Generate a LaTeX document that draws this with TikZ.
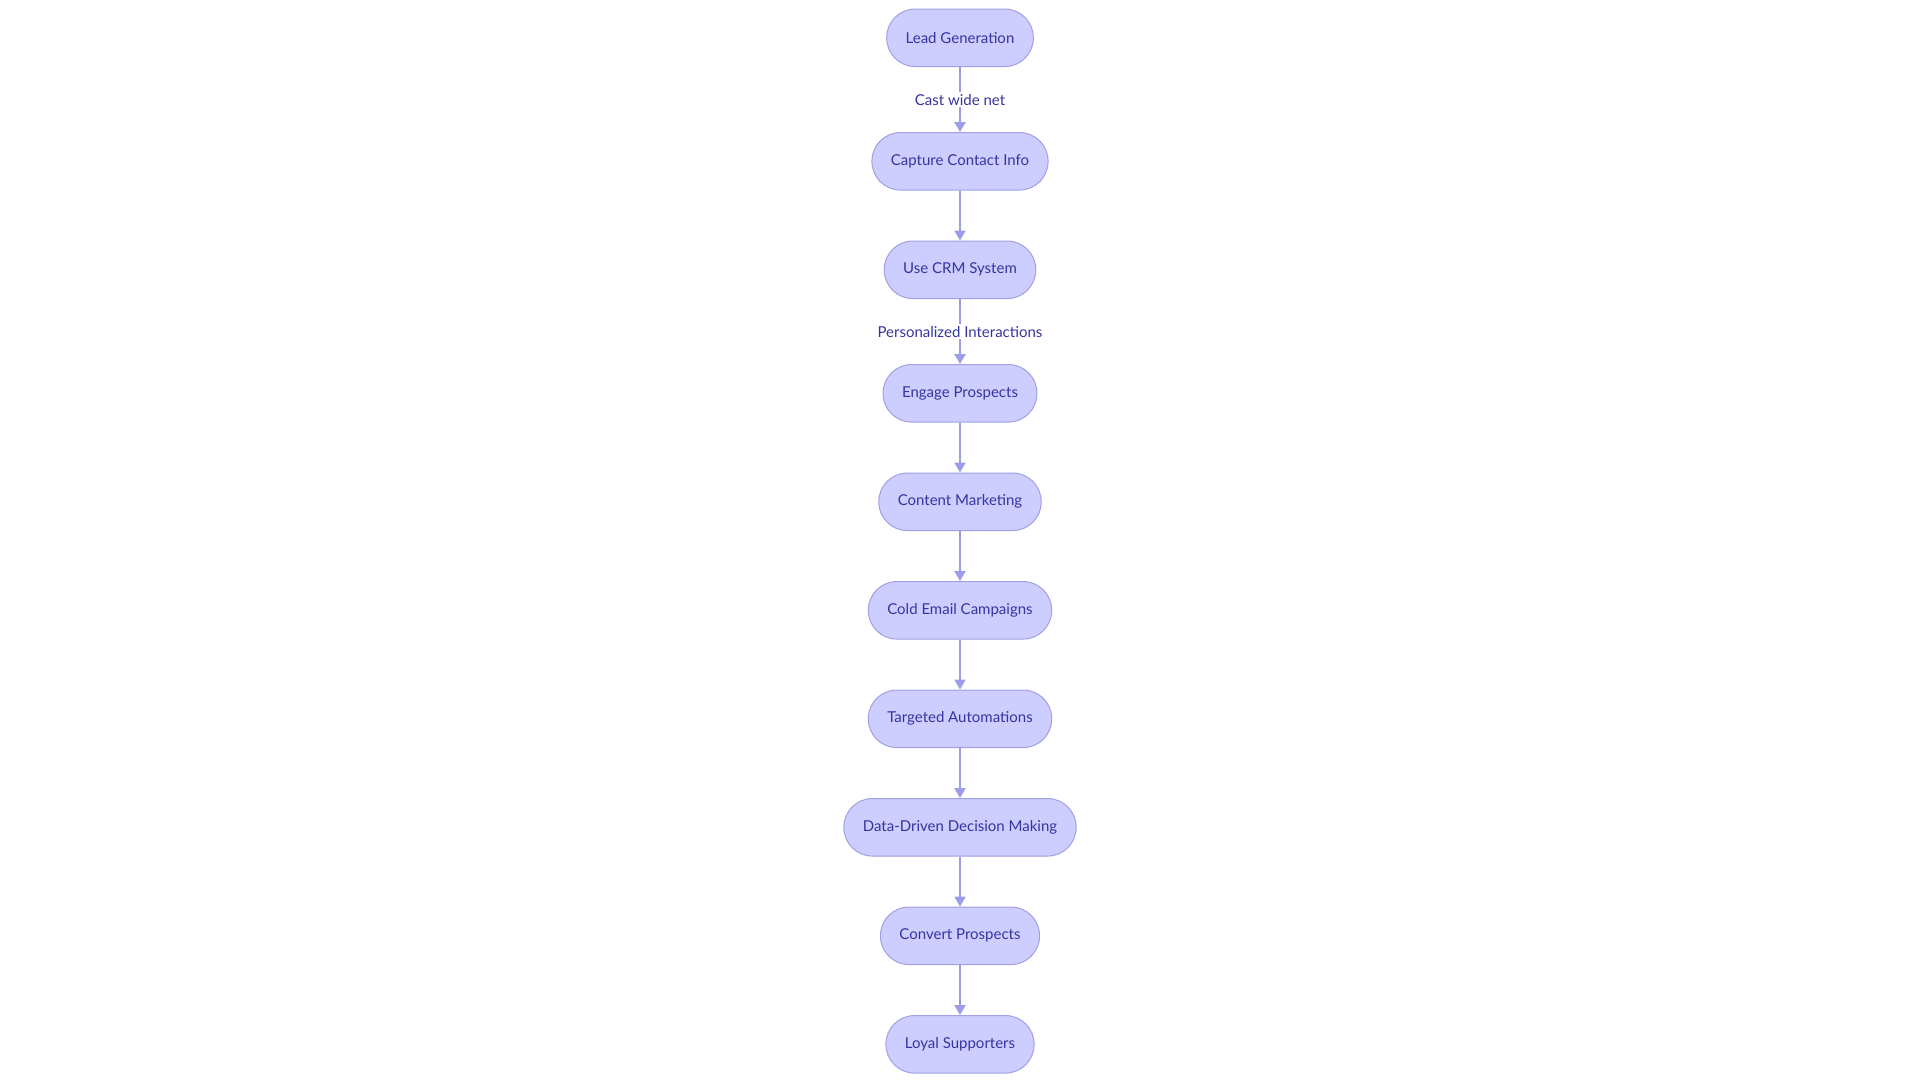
\documentclass[tikz,border=0pt]{standalone}
\usepackage{fontspec}
\setmainfont{Lato}
\usetikzlibrary{positioning, arrows.meta}
\definecolor{stagefill}{HTML}{CDCDFF}
\definecolor{stageline}{HTML}{A0A0E6}
\definecolor{stagetext}{HTML}{3535A0}
\definecolor{flowline}{HTML}{9C9CE8}

\tikzset{
  stage/.style={draw=stageline, fill=stagefill, text=stagetext, line width=1pt,
    rounded corners=28.5pt, minimum height=57.5pt, inner xsep=19pt,
    font=\fontsize{15}{18}\selectfont},
  flow/.style={draw=flowline, line width=2pt, -{Triangle[length=10pt,width=11pt]}},
  tag/.style={fill=white, text=stagetext, inner sep=2pt,
    font=\fontsize{15}{18}\selectfont}
}

\begin{document}
\begin{tikzpicture}[x=1pt, y=1pt, node distance=50pt]
      % Fix the page size
      \useasboundingbox (0,0) rectangle (1920,-1080);

      % Draw the stages from top to bottom
      \node[stage] (lead) at (960,-37.8) {Lead Generation};
      \node[stage, below=65pt of lead] (capture) {Capture Contact Info};
      \node[stage, below=of capture] (crm) {Use CRM System};
      \node[stage, below=65pt of crm] (engage) {Engage Prospects};
      \node[stage, below=of engage] (content) {Content Marketing};
      \node[stage, below=of content] (email) {Cold Email Campaigns};
      \node[stage, below=of email] (auto) {Targeted Automations};
      \node[stage, below=of auto] (data) {Data-Driven Decision Making};
      \node[stage, below=of data] (convert) {Convert Prospects};
      \node[stage, below=of convert] (loyal) {Loyal Supporters};

      % Connect the stages
      \draw[flow] (lead) -- node[tag] (castnet) {Cast wide net} (capture);
      \draw[flow] (capture) -- (crm);
      \draw[flow] (crm) -- node[tag] (personal) {Personalized Interactions} (engage);
      \draw[flow] (engage) -- (content);
      \draw[flow] (content) -- (email);
      \draw[flow] (email) -- (auto);
      \draw[flow] (auto) -- (data);
      \draw[flow] (data) -- (convert);
      \draw[flow] (convert) -- (loyal);
\end{tikzpicture}
\end{document}
